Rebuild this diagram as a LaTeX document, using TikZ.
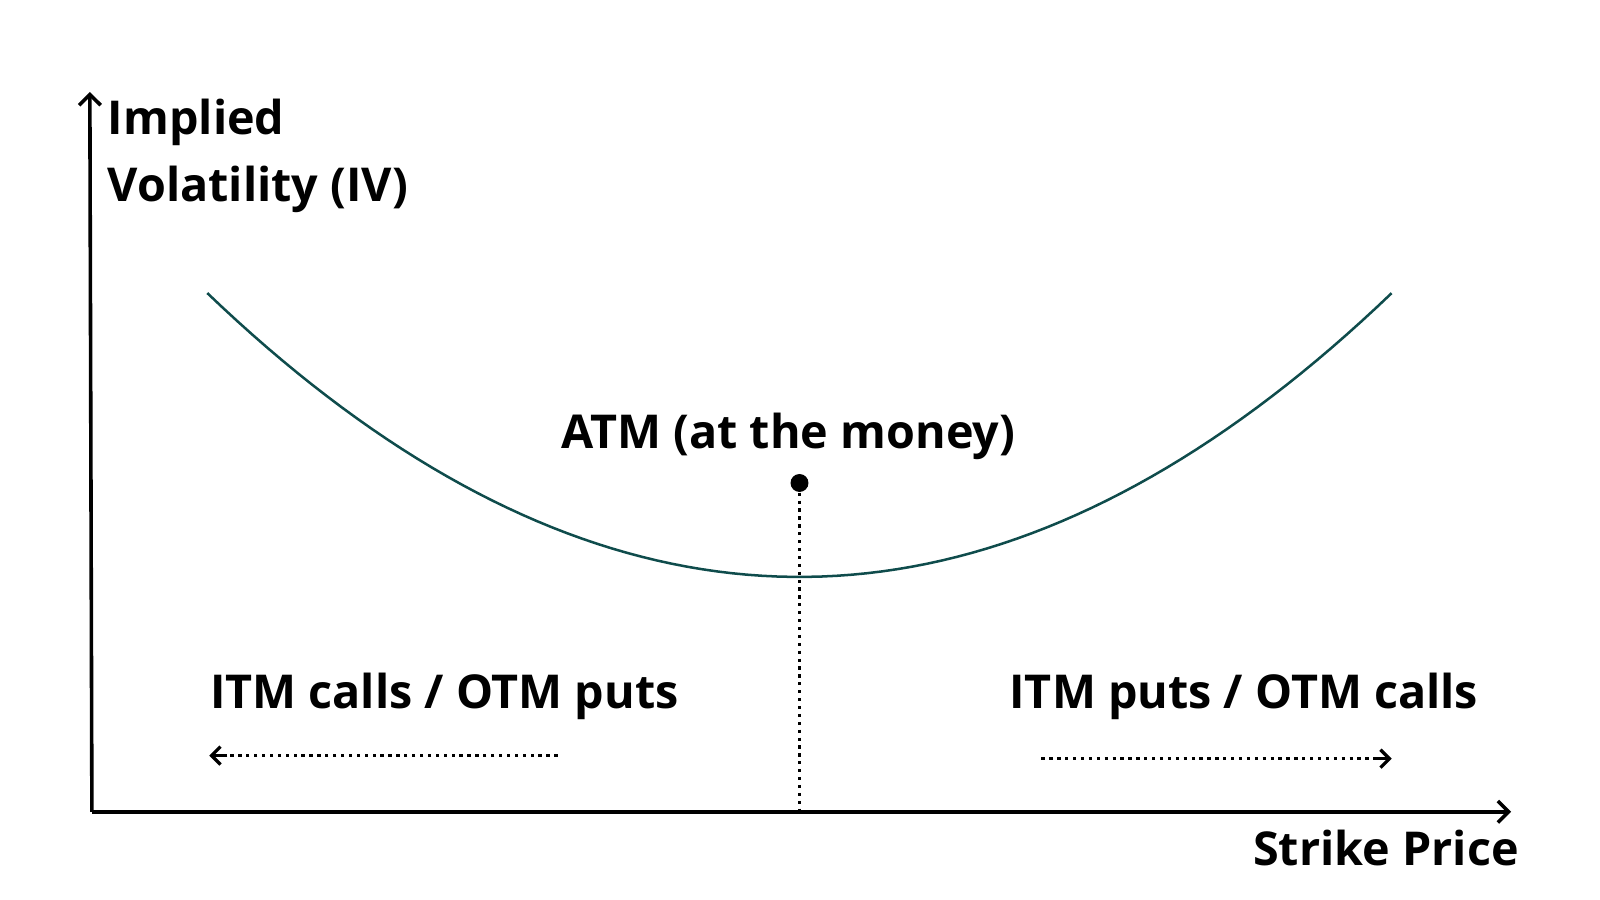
\documentclass[tikz,border=0pt]{standalone}
\usepackage{fontspec}
\setmainfont{Open Sans}
\usetikzlibrary{arrows.meta}
\definecolor{curvec}{HTML}{0F4C4C}
\begin{document}
\begin{tikzpicture}[x=0.01cm,y=-0.01cm,
  lbl/.style={font=\fontsize{13}{16}\selectfont\bfseries,inner sep=0pt},
  dots/.style={line width=0.9pt,dash pattern=on 0.9pt off 1.3pt}]
\useasboundingbox (0,0) rectangle (1567,881);
\coordinate (o) at (90,795);
\coordinate (ytop) at (88,90);
\coordinate (xend) at (1480,795);
\draw[line width=1pt,-{Straight Barb[length=3pt]}] (o) -- (ytop);
\draw[line width=1pt,-{Straight Barb[length=3pt]}] (o) -- (xend);
\draw[curvec,line width=0.7pt,domain=-1:1,samples=80] plot ({783+580*\x},{565-278*\x*\x});
\node[circle,fill=black,inner sep=0pt,minimum size=5pt] (dot) at (783,473) {};
\coordinate (base) at (783,795);
\draw[dots] (dot) -- (base);
\node[lbl] (atm) at (772,427) {ATM (at the money)};
\node[lbl,anchor=west] (l1) at (105,120) {Implied};
\node[lbl,anchor=west] (l2) at (105,185) {Volatility (IV)};
\node[lbl,anchor=west] (itm1) at (205,682) {ITM calls / OTM puts};
\node[lbl,anchor=west] (itm2) at (988,682) {ITM puts / OTM calls};
\node[lbl,anchor=east] (sp) at (1488,830) {Strike Price};
\coordinate (a1s) at (546,740); \coordinate (a1e) at (205,740);
\coordinate (a2s) at (1020,743); \coordinate (a2e) at (1363,743);
\draw[dots] (a1s) -- ([xshift=3]a1e);
\draw[line width=0.9pt,-{Straight Barb[length=2.5pt]}] ([xshift=5]a1e) -- (a1e);
\draw[dots] (a2s) -- ([xshift=-3]a2e);
\draw[line width=0.9pt,-{Straight Barb[length=2.5pt]}] ([xshift=-5]a2e) -- (a2e);
\end{tikzpicture}
\end{document}
